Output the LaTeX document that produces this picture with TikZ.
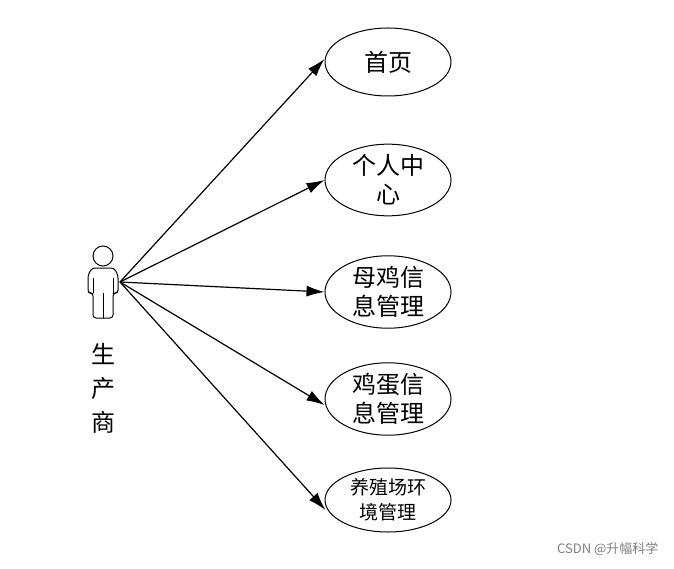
\documentclass[tikz,border=0pt]{standalone}
\usepackage{fontspec}
\newfontfamily\cjk{Noto Sans CJK SC}
\usetikzlibrary{arrows.meta,shapes.geometric}
\begin{document}
\begin{tikzpicture}[x=1pt,y=-1pt,
  uc/.style={draw,line width=1pt,ellipse,minimum width=126pt,minimum height=68pt,inner sep=0pt,align=center,font=\cjk\fontsize{24}{29}\selectfont},
  arr/.style={-{Latex[length=18pt,width=11pt]},line width=1.2pt},
  actorline/.style={line width=1pt}]
\useasboundingbox (0,0) rectangle (674,569);
\node[uc] (u1) at (388,62) {首页};
\node[uc] (u2) at (388,180) {个人中\\心};
\node[uc] (u3) at (388,292) {母鸡信\\息管理};
\node[uc] (u4) at (388,399) {鸡蛋信\\息管理};
\node[uc,minimum height=64pt,font=\cjk\fontsize{19}{25}\selectfont] (u5) at (388,500) {养殖场环\\境管理};
% actor
\draw[actorline] (103,256) circle (10);
\draw[actorline,rounded corners=3pt] (93,318) -- (93,293) -- (88,293) -- (88,275) -- (92,268) -- (114,268) -- (118,275) -- (118,293) -- (113,293) -- (113,318) -- cycle;
\draw[actorline] (103,293) -- (103,318);
\draw[actorline] (93,278) -- (93,293) (113,278) -- (113,293);
\coordinate (a) at (120,282);
\node[font=\cjk\fontsize{24}{34}\selectfont,align=center] (lab) at (103,388) {生\\产\\商};
\draw[arr] (a) -- ([yshift=3pt]u1.west);
\draw[arr] (a) -- (u2.west);
\draw[arr] (a) -- (u3.west);
\draw[arr] (a) -- ([yshift=-6pt]u4.west);
\draw[arr] (a) -- ([xshift=1pt,yshift=-10pt]u5.west);
\node[font=\cjk\fontsize{13}{15}\selectfont,text=gray,anchor=east] (wm) at (662,549) {CSDN @升幅科学};
\end{tikzpicture}
\end{document}
